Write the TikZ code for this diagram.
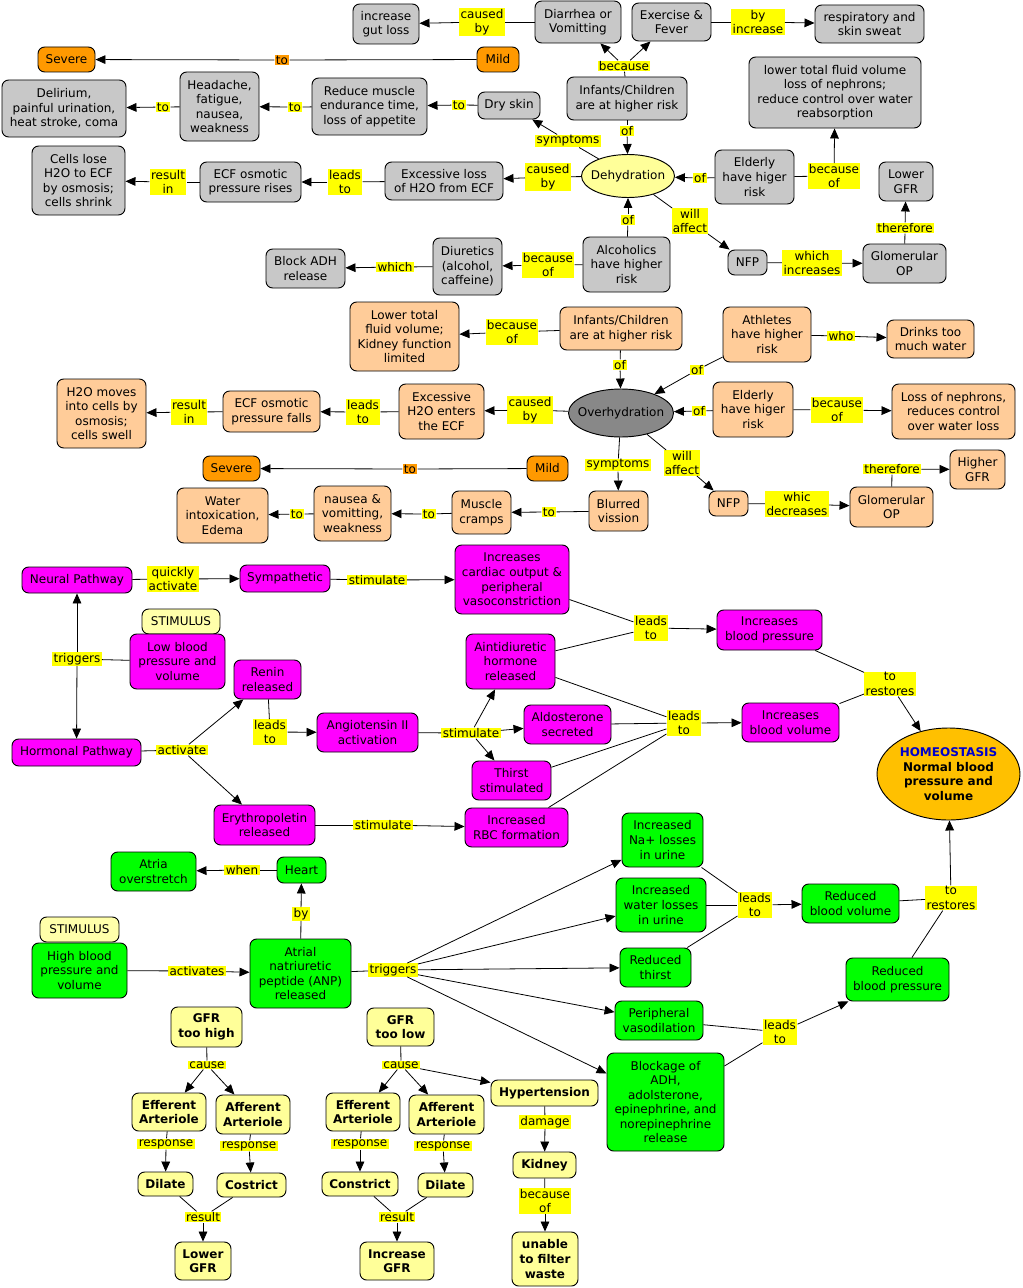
\documentclass[tikz,border=0pt]{standalone}
\usepackage{fontspec}
\setmainfont{DejaVu Sans}
\usetikzlibrary{arrows.meta,shapes.geometric}
\definecolor{cgray}{RGB}{200,200,200}
\definecolor{corange}{RGB}{255,153,0}
\definecolor{cpeach}{RGB}{255,204,153}
\definecolor{cover}{RGB}{136,136,136}
\definecolor{cdehy}{RGB}{255,255,153}
\definecolor{cmag}{RGB}{255,0,255}
\definecolor{cgreen}{RGB}{0,255,0}
\definecolor{cyel}{RGB}{255,255,153}
\definecolor{cstim}{RGB}{255,255,170}
\definecolor{clab}{RGB}{255,255,0}
\definecolor{chome}{RGB}{255,192,0}
\definecolor{hblue}{RGB}{0,0,204}
\newcommand\myfs{\fontsize{9}{10.9}\selectfont}
\newcommand\bnode[7]{\node[#1, minimum width={(#5-#3)*0.75pt}, minimum height={(#6-#4)*0.75pt}] (#2) at ({(#3+#5)/2},{(#4+#6)/2}) {#7};}
\newcommand\cn[3]{\draw[ln] (#1) -- (#2); \draw[arr] (#2) -- (#3);}
\tikzset{
 base/.style={draw=black, line width=0.7pt, rounded corners=5pt, align=center, inner sep=1pt, font=\myfs},
 gr/.style={base, fill=cgray},
 og/.style={base, fill=corange},
 pe/.style={base, fill=cpeach},
 mg/.style={base, fill=cmag},
 gn/.style={base, fill=cgreen},
 yl/.style={base, fill=cyel, font=\myfs\bfseries},
 stm/.style={base, fill=cstim},
 lb/.style={fill=clab, inner xsep=1pt, inner ysep=0.6pt, align=center, font=\myfs},
 lbo/.style={lb, fill=corange},
 arr/.style={-{Triangle[length=7.5pt,width=6.5pt]}, line width=0.6pt},
 ln/.style={line width=0.6pt},
 ell/.style={ellipse, draw=black, line width=0.7pt, inner sep=0pt, font=\myfs, align=center},
}
\begin{document}
\begin{tikzpicture}[x=0.75pt,y=-0.75pt]
\fill[white] (0,0) rectangle (1022,1288);
\useasboundingbox (0,0) rectangle (1022,1288);

% ---------- Dehydration ----------
\bnode{gr}{gut}{353}{4}{419}{44}{increase\\gut loss}
\bnode{gr}{diar}{535}{1}{621}{43}{Diarrhea or\\Vomitting}
\bnode{gr}{exer}{632}{3}{711}{41}{Exercise \&\\Fever}
\bnode{gr}{resp}{815}{5}{924}{43}{respiratory and\\skin sweat}
\bnode{og}{mildA}{477}{47}{519}{72}{Mild}
\bnode{og}{sevA}{38}{47}{95}{72}{Severe}
\bnode{gr}{infD}{567}{77}{687}{120}{Infants/Children\\are at higher risk}
\bnode{gr}{dry}{478}{92}{540}{119}{Dry skin}
\bnode{gr}{redm}{312}{78}{427}{135}{Reduce muscle\\endurance time,\\loss of appetite}
\bnode{gr}{head}{180}{72}{259}{141}{Headache,\\fatigue,\\nausea,\\weakness}
\bnode{gr}{deli}{2}{80}{126}{137}{Delirium,\\painful urination,\\heat stroke, coma}
\bnode{gr}{lowtf}{749}{57}{921}{128}{lower total fluid volume\\loss of nephrons;\\reduce control over water\\reabsorption}
\node[ell, fill=cdehy, minimum width=93*0.75pt, minimum height=43*0.75pt] (dehy) at (628,176) {\makebox[0pt]{Dehydration}};
\bnode{gr}{exls}{385}{162}{503}{200}{Excessive loss\\of H2O from ECF}
\bnode{gr}{ecfr}{200}{162}{301}{202}{ECF osmotic\\pressure rises}
\bnode{gr}{cell}{32}{146}{125}{215}{Cells lose\\H2O to ECF\\by osmosis;\\cells shrink}
\bnode{gr}{eldD}{715}{150}{794}{204}{Elderly\\have higer\\risk}
\bnode{gr}{lgfr}{879}{162}{933}{201}{Lower\\GFR}
\bnode{gr}{glD}{863}{244}{946}{283}{Glomerular\\OP}
\bnode{gr}{nfpD}{728}{250}{767}{275}{NFP}
\bnode{gr}{alc}{583}{237}{670}{292}{Alcoholics\\have higher\\risk}
\bnode{gr}{diu}{433}{238}{502}{295}{Diuretics\\(alcohol,\\caffeine)}
\bnode{gr}{adh}{266}{249}{345}{288}{Block ADH\\release}

\node[lb] (l1) at (482,22) {caused\\by};
\node[lb] (l2) at (624,66) {because};
\node[lb] (l3) at (758,22) {by\\increase};
\node[lbo] (l4) at (282,60) {to};
\node[lb] (l5) at (568,141) {symptoms};
\node[lb] (l6) at (459,105) {to};
\node[lb] (l7) at (295,107) {to};
\node[lb] (l8) at (163,107) {to};
\node[lb] (l9) at (627,131) {of};
\node[lb] (l10) at (548,177) {caused\\by};
\node[lb] (l11) at (345,182) {leads\\to};
\node[lb] (l12) at (168,182) {result\\in};
\node[lb] (l13) at (700,178) {of};
\node[lb] (l14) at (834,176) {because\\of};
\node[lb] (l15) at (690,221) {will\\affect};
\node[lb] (l16) at (812,263) {which\\increases};
\node[lb] (l17) at (905,228) {therefore};
\node[lb] (l18) at (628,220) {of};
\node[lb] (l19) at (548,265) {because\\of};
\node[lb] (l20) at (395,267) {which};

\cn{diar}{l1}{gut}
\draw[ln] (infD) -- (l2); \draw[arr] (l2) -- (diar); \draw[arr] (l2) -- (exer);
\cn{exer}{l3}{resp}
\cn{mildA}{l4}{sevA}
\cn{dehy}{l5}{dry}
\cn{dry}{l6}{redm}
\cn{redm}{l7}{head}
\cn{head}{l8}{deli}
\cn{infD}{l9}{dehy}
\cn{dehy}{l10}{exls}
\cn{exls}{l11}{ecfr}
\cn{ecfr}{l12}{cell}
\cn{eldD}{l13}{dehy}
\cn{eldD}{l14}{lowtf}
\cn{dehy}{l15}{nfpD}
\cn{nfpD}{l16}{glD}
\cn{glD}{l17}{lgfr}
\cn{alc}{l18}{dehy}
\cn{alc}{l19}{diu}
\cn{diu}{l20}{adh}

% ---------- Overhydration ----------
\bnode{pe}{lowk}{350}{302}{459}{371}{Lower total\\fluid volume;\\Kidney function\\limited}
\bnode{pe}{infO}{560}{307}{682}{350}{Infants/Children\\are at higher risk}
\bnode{pe}{ath}{723}{307}{811}{362}{Athletes\\have higher\\risk}
\bnode{pe}{drk}{887}{320}{974}{358}{Drinks too\\much water}
\node[ell, fill=cover, minimum width=105*0.75pt, minimum height=48*0.75pt] (over) at (621,413) {\makebox[0pt]{Overhydration}};
\bnode{pe}{eldO}{713}{382}{793}{437}{Elderly\\have higer\\risk}
\bnode{pe}{lon}{892}{384}{1015}{439}{Loss of nephrons,\\reduces control\\over water loss}
\bnode{pe}{exen}{399}{384}{484}{439}{Excessive\\H2O enters\\the ECF}
\bnode{pe}{ecff}{223}{391}{320}{432}{ECF osmotic\\pressure falls}
\bnode{pe}{h2o}{57}{379}{146}{448}{H2O moves\\into cells by\\osmosis;\\cells swell}
\bnode{og}{sevB}{203}{456}{260}{481}{Severe}
\bnode{og}{mildB}{527}{456}{568}{481}{Mild}
\bnode{pe}{blur}{589}{491}{648}{531}{Blurred\\vission}
\bnode{pe}{musc}{452}{491}{511}{534}{Muscle\\cramps}
\bnode{pe}{naus}{314}{486}{391}{541}{nausea \&\\vomitting,\\weakness}
\bnode{pe}{wat}{177}{488}{268}{543}{Water\\intoxication,\\Edema}
\bnode{pe}{nfpO}{709}{491}{748}{516}{NFP}
\bnode{pe}{glO}{850}{487}{933}{527}{Glomerular\\OP}
\bnode{pe}{hgfr}{950}{450}{1005}{489}{Higher\\GFR}

\node[lb] (m1) at (512,332) {because\\of};
\node[lb] (m2) at (620,365) {of};
\node[lb] (m3) at (841,336) {who};
\node[lb] (m4) at (697,370) {of};
\node[lb] (m5) at (699,411) {of};
\node[lb] (m6) at (837,410) {because\\of};
\node[lb] (m7) at (530,410) {caused\\by};
\node[lb] (m8) at (363,412) {leads\\to};
\node[lb] (m9) at (189,412) {result\\in};
\node[lbo] (m10) at (410,469) {to};
\node[lb] (m11) at (618,465) {symptoms};
\node[lb] (m12) at (549,512) {to};
\node[lb] (m13) at (429,514) {to};
\node[lb] (m14) at (297,514) {to};
\node[lb] (m15) at (682,463) {will\\affect};
\node[lb] (m16) at (797,504) {whic\\decreases};
\node[lb] (m17) at (892,469) {therefore};

\cn{infO}{m1}{lowk}
\cn{infO}{m2}{over}
\cn{ath}{m3}{drk}
\cn{ath}{m4}{over}
\cn{eldO}{m5}{over}
\cn{eldO}{m6}{lon}
\cn{over}{m7}{exen}
\cn{exen}{m8}{ecff}
\cn{ecff}{m9}{h2o}
\cn{mildB}{m10}{sevB}
\cn{over}{m11}{blur}
\cn{blur}{m12}{musc}
\cn{musc}{m13}{naus}
\cn{naus}{m14}{wat}
\cn{over}{m15}{nfpO}
\cn{nfpO}{m16}{glO}
\cn{glO}{m17}{hgfr}

% ---------- Low BP (magenta) ----------
\bnode{mg}{neu}{22}{567}{132}{593}{Neural Pathway}
\bnode{mg}{sym}{240}{565}{330}{592}{Sympathetic}
\bnode{mg}{card}{455}{545}{569}{614}{Increases\\cardiac output \&\\peripheral\\vasoconstriction}
\bnode{mg}{ibp}{717}{610}{822}{650}{Increases\\blood pressure}
\node[ell, fill=chome, font=\myfs\bfseries, minimum width=143*0.75pt, minimum height=92*0.75pt] (homeo) at (948.5,774) {\textcolor{hblue}{HOMEOSTASIS}\\Normal blood\\pressure and\\volume};
\bnode{stm}{stimA}{142}{609}{220}{634}{STIMULUS}
\bnode{mg}{lbp}{130}{634}{225}{689}{Low blood\\pressure and\\volume}
\bnode{mg}{hor}{12}{739}{141}{766}{Hormonal Pathway}
\bnode{mg}{ren}{234}{660}{301}{699}{Renin\\released}
\bnode{mg}{ang}{317}{713}{418}{752}{Angiotensin II\\activation}
\bnode{mg}{adhr}{466}{634}{555}{689}{Aintidiuretic\\hormone\\released}
\bnode{mg}{ald}{524}{705}{611}{744}{Aldosterone\\secreted}
\bnode{mg}{thr}{472}{761}{551}{800}{Thirst\\stimulated}
\bnode{mg}{ibv}{742}{703}{839}{742}{Increases\\blood volume}
\bnode{mg}{ery}{214}{805}{315}{845}{Erythropoletin\\released}
\bnode{mg}{rbc}{465}{808}{568}{847}{Increased\\RBC formation}

\node[lb] (p1) at (173,579) {quickly\\activate};
\node[lb] (p2) at (377,580) {stimulate};
\node[lb] (p3) at (651,628) {leads\\to};
\node[lb] (p4) at (890,684) {to\\restores};
\node[lb] (p5) at (77,659) {triggers};
\node[lb] (p6) at (182,750) {activate};
\node[lb] (p7) at (270,732) {leads\\to};
\node[lb] (p8) at (471,733) {stimulate};
\node[lb] (p9) at (684,723) {leads\\to};
\node[lb] (p10) at (383,825) {stimulate};

\cn{neu}{p1}{sym}
\cn{sym}{p2}{card}
\draw[ln] (card) -- (p3); \draw[ln] (adhr) -- (p3); \draw[arr] (p3) -- (ibp);
\draw[ln] (ibp) -- (p4); \draw[ln] (ibv) -- (p4); \draw[arr] (p4) -- (homeo);
\draw[ln] (lbp) -- (p5); \draw[arr] (p5) -- (neu); \draw[arr] (p5) -- (hor);
\draw[ln] (hor) -- (p6); \draw[arr] (p6) -- (ren); \draw[arr] (p6) -- (ery);
\cn{ren}{p7}{ang}
\draw[ln] (ang) -- (p8); \draw[arr] (p8) -- (adhr); \draw[arr] (p8) -- (ald); \draw[arr] (p8) -- (thr);
\draw[ln] (adhr) -- (p9); \draw[ln] (ald) -- (p9); \draw[ln] (thr) -- (p9); \draw[ln] (rbc) -- (p9); \draw[arr] (p9) -- (ibv);
\cn{ery}{p10}{rbc}

% ---------- High BP (green) ----------
\bnode{gn}{atr}{111}{852}{196}{891}{Atria\\overstretch}
\bnode{gn}{hrt}{277}{857}{326}{883}{Heart}
\bnode{stm}{stimB}{40}{917}{119}{942}{STIMULUS}
\bnode{gn}{hbp}{32}{943}{127}{998}{High blood\\pressure and\\volume}
\bnode{gn}{anp}{250}{939}{351}{1008}{Atrial\\natriuretic\\peptide (ANP)\\released}
\bnode{gn}{na}{622}{813}{703}{867}{Increased\\Na+ losses\\in urine}
\bnode{gn}{wl}{616}{878}{706}{932}{Increased\\water losses\\in urine}
\bnode{gn}{rth}{620}{948}{691}{987}{Reduced\\thirst}
\bnode{gn}{rbv}{802}{884}{899}{923}{Reduced\\blood volume}
\bnode{gn}{rbp}{846}{958}{949}{1001}{Reduced\\blood pressure}
\bnode{gn}{pv}{615}{1001}{703}{1040}{Peripheral\\vasodilation}
\bnode{gn}{blk}{607}{1053}{724}{1151}{Blockage of\\ADH,\\adolsterone,\\epinephrine, and\\norepinephrine\\release}

\node[lb] (g1) at (242,870) {when};
\node[lb] (g2) at (301,914) {by};
\node[lb] (g3) at (197,971) {activates};
\node[lb] (g4) at (393,970) {triggers};
\node[lb] (g5) at (755,905) {leads\\to};
\node[lb] (g6) at (951,898) {to\\restores};
\node[lb] (g7) at (780,1032) {leads\\to};

\cn{hrt}{g1}{atr}
\cn{anp}{g2}{hrt}
\cn{hbp}{g3}{anp}
\draw[ln] (anp) -- (g4);
\draw[arr] (g4) -- (na); \draw[arr] (g4) -- (wl); \draw[arr] (g4) -- (rth); \draw[arr] (g4) -- (pv); \draw[arr] (g4) -- (blk);
\draw[ln] (na) -- (g5); \draw[ln] (wl) -- (g5); \draw[ln] (rth) -- (g5); \draw[arr] (g5) -- (rbv);
\draw[ln] (rbv) -- (g6); \draw[ln] (rbp) -- (g6); \draw[arr] (g6) -- (homeo);
\draw[ln] (pv) -- (g7); \draw[ln] (blk) -- (g7); \draw[arr] (g7) -- (rbp);

% ---------- GFR (yellow) ----------
\bnode{yl}{gh}{171}{1007}{242}{1047}{GFR\\too high}
\bnode{yl}{efA}{132}{1093}{206}{1131}{Efferent\\Arteriole}
\bnode{yl}{afA}{216}{1095}{290}{1134}{Afferent\\Arteriole}
\bnode{yl}{dlA}{138}{1172}{193}{1196}{Dilate}
\bnode{yl}{csA}{217}{1173}{286}{1197}{Costrict}
\bnode{yl}{lg}{175}{1242}{231}{1280}{Lower\\GFR}
\bnode{yl}{gl}{367}{1008}{434}{1046}{GFR\\too low}
\bnode{yl}{efB}{326}{1093}{400}{1131}{Efferent\\Arteriole}
\bnode{yl}{afB}{409}{1095}{484}{1134}{Afferent\\Arteriole}
\bnode{yl}{csB}{322}{1172}{398}{1196}{Constrict}
\bnode{yl}{dlB}{418}{1173}{473}{1197}{Dilate}
\bnode{yl}{ig}{360}{1242}{434}{1280}{Increase\\GFR}
\bnode{yl}{hyp}{491}{1080}{598}{1106}{Hypertension}
\bnode{yl}{kid}{513}{1152}{576}{1178}{Kidney}
\bnode{yl}{unb}{512}{1232}{578}{1286}{unable\\to filter\\waste}

\node[lb] (y1) at (207,1065) {cause};
\node[lb] (y2) at (166,1144) {response};
\node[lb] (y3) at (249,1146) {response};
\node[lb] (y4) at (203,1217) {result};
\node[lb] (y5) at (401,1065) {cause};
\node[lb] (y6) at (360,1144) {response};
\node[lb] (y7) at (443,1146) {response};
\node[lb] (y8) at (397,1217) {result};
\node[lb] (y9) at (545,1122) {damage};
\node[lb] (y10) at (545,1201) {because\\of};

\draw[ln] (gh) -- (y1); \draw[arr] (y1) -- (efA); \draw[arr] (y1) -- (afA);
\cn{efA}{y2}{dlA}
\cn{afA}{y3}{csA}
\draw[ln] (dlA) -- (y4); \draw[ln] (csA) -- (y4); \draw[arr] (y4) -- (lg);
\draw[ln] (gl) -- (y5); \draw[arr] (y5) -- (efB); \draw[arr] (y5) -- (afB); \draw[arr] (y5) -- (hyp);
\cn{efB}{y6}{csB}
\cn{afB}{y7}{dlB}
\draw[ln] (csB) -- (y8); \draw[ln] (dlB) -- (y8); \draw[arr] (y8) -- (ig);
\cn{hyp}{y9}{kid}
\cn{kid}{y10}{unb}
\end{tikzpicture}
\end{document}
